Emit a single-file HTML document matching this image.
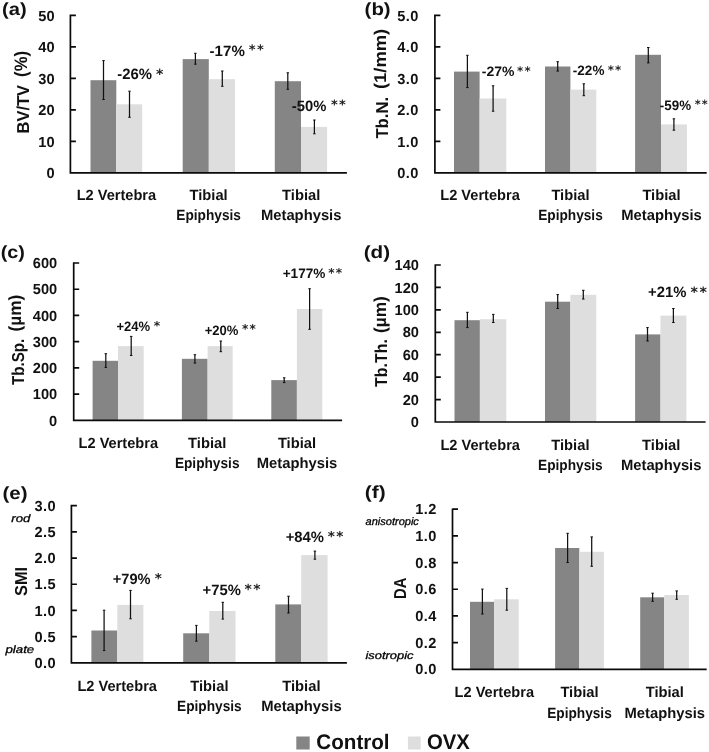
<!DOCTYPE html>
<html lang="en">
<head>
<meta charset="utf-8">
<title>Figure</title>
<style>
html,body{margin:0;padding:0;background:#fff;}
body{width:709px;height:752px;overflow:hidden;}
svg{display:block;font-family:'Liberation Sans', sans-serif;}
svg text{white-space:pre;}
</style>
</head>
<body>
<svg xml:space="preserve" width="709" height="752" viewBox="0 0 709 752" text-rendering="geometricPrecision">
<rect width="709" height="752" fill="#fff"/>
<rect x="90.50" y="80.20" width="25.80" height="92.70" fill="#858585"/>
<rect x="116.30" y="104.30" width="25.90" height="68.60" fill="#dedede"/>
<rect x="182.70" y="59.10" width="26.10" height="113.80" fill="#858585"/>
<rect x="208.80" y="79.20" width="26.20" height="93.70" fill="#dedede"/>
<rect x="274.80" y="81.20" width="26.20" height="91.70" fill="#858585"/>
<rect x="301.00" y="126.90" width="26.10" height="46.00" fill="#dedede"/>
<path d="M103.50 60.60V99.50" stroke="#111" stroke-width="1.25" fill="none"/><path d="M102.25 60.60h2.5M102.25 99.50h2.5" stroke="#111" stroke-width="1" fill="none"/>
<path d="M129.50 91.20V117.30" stroke="#111" stroke-width="1.25" fill="none"/><path d="M128.25 91.20h2.5M128.25 117.30h2.5" stroke="#111" stroke-width="1" fill="none"/>
<path d="M195.40 53.30V64.20" stroke="#111" stroke-width="1.25" fill="none"/><path d="M194.15 53.30h2.5M194.15 64.20h2.5" stroke="#111" stroke-width="1" fill="none"/>
<path d="M222.30 71.00V86.30" stroke="#111" stroke-width="1.25" fill="none"/><path d="M221.05 71.00h2.5M221.05 86.30h2.5" stroke="#111" stroke-width="1" fill="none"/>
<path d="M287.80 72.80V89.30" stroke="#111" stroke-width="1.25" fill="none"/><path d="M286.55 72.80h2.5M286.55 89.30h2.5" stroke="#111" stroke-width="1" fill="none"/>
<path d="M314.40 120.00V133.80" stroke="#111" stroke-width="1.25" fill="none"/><path d="M313.15 120.00h2.5M313.15 133.80h2.5" stroke="#111" stroke-width="1" fill="none"/>
<path d="M70.40 14.60V172.90H346.90M70.40 15.40h5.5M70.40 46.90h5.5M70.40 78.40h5.5M70.40 109.90h5.5M70.40 141.40h5.5" stroke="#0a0a0a" stroke-width="1.7" fill="none"/>
<text x="54.50" y="20.50" font-size="14.6" font-weight="bold" text-anchor="end" fill="#111">50</text>
<text x="54.50" y="52.00" font-size="14.6" font-weight="bold" text-anchor="end" fill="#111">40</text>
<text x="54.50" y="83.50" font-size="14.6" font-weight="bold" text-anchor="end" fill="#111">30</text>
<text x="54.50" y="115.00" font-size="14.6" font-weight="bold" text-anchor="end" fill="#111">20</text>
<text x="54.50" y="146.50" font-size="14.6" font-weight="bold" text-anchor="end" fill="#111">10</text>
<text x="54.50" y="178.00" font-size="14.6" font-weight="bold" text-anchor="end" fill="#111">0</text>
<rect x="454.00" y="71.60" width="25.60" height="101.30" fill="#858585"/>
<rect x="479.60" y="98.50" width="26.70" height="74.40" fill="#dedede"/>
<rect x="545.00" y="66.50" width="25.40" height="106.40" fill="#858585"/>
<rect x="570.40" y="89.60" width="25.90" height="83.30" fill="#dedede"/>
<rect x="635.10" y="54.80" width="25.90" height="118.10" fill="#858585"/>
<rect x="661.00" y="124.40" width="25.90" height="48.50" fill="#dedede"/>
<path d="M467.40 55.30V87.60" stroke="#111" stroke-width="1.25" fill="none"/><path d="M466.15 55.30h2.5M466.15 87.60h2.5" stroke="#111" stroke-width="1" fill="none"/>
<path d="M493.10 85.80V111.20" stroke="#111" stroke-width="1.25" fill="none"/><path d="M491.85 85.80h2.5M491.85 111.20h2.5" stroke="#111" stroke-width="1" fill="none"/>
<path d="M557.70 61.70V71.10" stroke="#111" stroke-width="1.25" fill="none"/><path d="M556.45 61.70h2.5M556.45 71.10h2.5" stroke="#111" stroke-width="1" fill="none"/>
<path d="M583.80 83.80V95.70" stroke="#111" stroke-width="1.25" fill="none"/><path d="M582.55 83.80h2.5M582.55 95.70h2.5" stroke="#111" stroke-width="1" fill="none"/>
<path d="M648.30 47.50V62.90" stroke="#111" stroke-width="1.25" fill="none"/><path d="M647.05 47.50h2.5M647.05 62.90h2.5" stroke="#111" stroke-width="1" fill="none"/>
<path d="M673.90 118.80V130.20" stroke="#111" stroke-width="1.25" fill="none"/><path d="M672.65 118.80h2.5M672.65 130.20h2.5" stroke="#111" stroke-width="1" fill="none"/>
<path d="M434.90 14.60V172.90H706.70M434.90 15.40h5.5M434.90 46.90h5.5M434.90 78.40h5.5M434.90 109.90h5.5M434.90 141.40h5.5" stroke="#0a0a0a" stroke-width="1.7" fill="none"/>
<text x="418.95" y="20.50" font-size="14.6" font-weight="bold" text-anchor="end" letter-spacing="0.45" fill="#111">5.0</text>
<text x="418.95" y="52.00" font-size="14.6" font-weight="bold" text-anchor="end" letter-spacing="0.45" fill="#111">4.0</text>
<text x="418.95" y="83.50" font-size="14.6" font-weight="bold" text-anchor="end" letter-spacing="0.45" fill="#111">3.0</text>
<text x="418.95" y="115.00" font-size="14.6" font-weight="bold" text-anchor="end" letter-spacing="0.45" fill="#111">2.0</text>
<text x="418.95" y="146.50" font-size="14.6" font-weight="bold" text-anchor="end" letter-spacing="0.45" fill="#111">1.0</text>
<text x="418.95" y="178.00" font-size="14.6" font-weight="bold" text-anchor="end" letter-spacing="0.45" fill="#111">0.0</text>
<rect x="92.60" y="360.80" width="25.40" height="59.60" fill="#858585"/>
<rect x="118.00" y="346.10" width="25.70" height="74.30" fill="#dedede"/>
<rect x="181.90" y="358.80" width="25.70" height="61.60" fill="#858585"/>
<rect x="207.60" y="346.10" width="25.10" height="74.30" fill="#dedede"/>
<rect x="271.30" y="380.10" width="25.60" height="40.30" fill="#858585"/>
<rect x="296.90" y="309.00" width="25.40" height="111.40" fill="#dedede"/>
<path d="M105.80 353.70V367.40" stroke="#111" stroke-width="1.25" fill="none"/><path d="M104.55 353.70h2.5M104.55 367.40h2.5" stroke="#111" stroke-width="1" fill="none"/>
<path d="M131.20 336.40V355.50" stroke="#111" stroke-width="1.25" fill="none"/><path d="M129.95 336.40h2.5M129.95 355.50h2.5" stroke="#111" stroke-width="1" fill="none"/>
<path d="M194.90 354.70V363.10" stroke="#111" stroke-width="1.25" fill="none"/><path d="M193.65 354.70h2.5M193.65 363.10h2.5" stroke="#111" stroke-width="1" fill="none"/>
<path d="M220.80 341.00V351.70" stroke="#111" stroke-width="1.25" fill="none"/><path d="M219.55 341.00h2.5M219.55 351.70h2.5" stroke="#111" stroke-width="1" fill="none"/>
<path d="M284.20 377.80V382.60" stroke="#111" stroke-width="1.25" fill="none"/><path d="M282.95 377.80h2.5M282.95 382.60h2.5" stroke="#111" stroke-width="1" fill="none"/>
<path d="M309.60 288.70V329.30" stroke="#111" stroke-width="1.25" fill="none"/><path d="M308.35 288.70h2.5M308.35 329.30h2.5" stroke="#111" stroke-width="1" fill="none"/>
<path d="M73.70 262.20V420.40H342.10M73.70 263.00h5.5M73.70 289.23h5.5M73.70 315.47h5.5M73.70 341.70h5.5M73.70 367.93h5.5M73.70 394.17h5.5" stroke="#0a0a0a" stroke-width="1.7" fill="none"/>
<text x="57.20" y="268.10" font-size="14.6" font-weight="bold" text-anchor="end" fill="#111">600</text>
<text x="57.20" y="294.33" font-size="14.6" font-weight="bold" text-anchor="end" fill="#111">500</text>
<text x="57.20" y="320.56" font-size="14.6" font-weight="bold" text-anchor="end" fill="#111">400</text>
<text x="57.20" y="346.80" font-size="14.6" font-weight="bold" text-anchor="end" fill="#111">300</text>
<text x="57.20" y="373.03" font-size="14.6" font-weight="bold" text-anchor="end" fill="#111">200</text>
<text x="57.20" y="399.26" font-size="14.6" font-weight="bold" text-anchor="end" fill="#111">100</text>
<text x="57.20" y="425.50" font-size="14.6" font-weight="bold" text-anchor="end" fill="#111">0</text>
<rect x="454.50" y="320.20" width="25.40" height="101.80" fill="#858585"/>
<rect x="479.90" y="319.20" width="26.40" height="102.80" fill="#dedede"/>
<rect x="545.00" y="301.70" width="25.40" height="120.30" fill="#858585"/>
<rect x="570.40" y="294.80" width="25.90" height="127.20" fill="#dedede"/>
<rect x="635.10" y="334.40" width="25.40" height="87.60" fill="#858585"/>
<rect x="660.50" y="315.60" width="25.90" height="106.40" fill="#dedede"/>
<path d="M467.40 312.30V327.60" stroke="#111" stroke-width="1.25" fill="none"/><path d="M466.15 312.30h2.5M466.15 327.60h2.5" stroke="#111" stroke-width="1" fill="none"/>
<path d="M493.30 314.40V322.50" stroke="#111" stroke-width="1.25" fill="none"/><path d="M492.05 314.40h2.5M492.05 322.50h2.5" stroke="#111" stroke-width="1" fill="none"/>
<path d="M557.70 294.60V308.50" stroke="#111" stroke-width="1.25" fill="none"/><path d="M556.45 294.60h2.5M556.45 308.50h2.5" stroke="#111" stroke-width="1" fill="none"/>
<path d="M583.30 290.30V299.10" stroke="#111" stroke-width="1.25" fill="none"/><path d="M582.05 290.30h2.5M582.05 299.10h2.5" stroke="#111" stroke-width="1" fill="none"/>
<path d="M647.50 327.60V341.00" stroke="#111" stroke-width="1.25" fill="none"/><path d="M646.25 327.60h2.5M646.25 341.00h2.5" stroke="#111" stroke-width="1" fill="none"/>
<path d="M673.40 308.50V322.50" stroke="#111" stroke-width="1.25" fill="none"/><path d="M672.15 308.50h2.5M672.15 322.50h2.5" stroke="#111" stroke-width="1" fill="none"/>
<path d="M435.30 264.20V422.00H705.60M435.30 265.00h5.5M435.30 287.43h5.5M435.30 309.86h5.5M435.30 332.29h5.5M435.30 354.71h5.5M435.30 377.14h5.5M435.30 399.57h5.5" stroke="#0a0a0a" stroke-width="1.7" fill="none"/>
<text x="418.90" y="270.10" font-size="14.6" font-weight="bold" text-anchor="end" fill="#111">140</text>
<text x="418.90" y="292.52" font-size="14.6" font-weight="bold" text-anchor="end" fill="#111">120</text>
<text x="418.90" y="314.95" font-size="14.6" font-weight="bold" text-anchor="end" fill="#111">100</text>
<text x="418.90" y="337.38" font-size="14.6" font-weight="bold" text-anchor="end" fill="#111">80</text>
<text x="418.90" y="359.81" font-size="14.6" font-weight="bold" text-anchor="end" fill="#111">60</text>
<text x="418.90" y="382.24" font-size="14.6" font-weight="bold" text-anchor="end" fill="#111">40</text>
<text x="418.90" y="404.67" font-size="14.6" font-weight="bold" text-anchor="end" fill="#111">20</text>
<text x="418.90" y="427.10" font-size="14.6" font-weight="bold" text-anchor="end" fill="#111">0</text>
<rect x="91.40" y="630.50" width="25.90" height="32.40" fill="#858585"/>
<rect x="117.30" y="604.90" width="26.10" height="58.00" fill="#dedede"/>
<rect x="183.20" y="633.30" width="26.10" height="29.60" fill="#858585"/>
<rect x="209.30" y="611.00" width="26.20" height="51.90" fill="#dedede"/>
<rect x="275.30" y="604.40" width="25.90" height="58.50" fill="#858585"/>
<rect x="301.20" y="555.10" width="26.40" height="107.80" fill="#dedede"/>
<path d="M104.10 610.20V650.60" stroke="#111" stroke-width="1.25" fill="none"/><path d="M102.85 610.20h2.5M102.85 650.60h2.5" stroke="#111" stroke-width="1" fill="none"/>
<path d="M130.50 590.40V618.80" stroke="#111" stroke-width="1.25" fill="none"/><path d="M129.25 590.40h2.5M129.25 618.80h2.5" stroke="#111" stroke-width="1" fill="none"/>
<path d="M196.40 625.40V641.20" stroke="#111" stroke-width="1.25" fill="none"/><path d="M195.15 625.40h2.5M195.15 641.20h2.5" stroke="#111" stroke-width="1" fill="none"/>
<path d="M222.80 602.30V619.10" stroke="#111" stroke-width="1.25" fill="none"/><path d="M221.55 602.30h2.5M221.55 619.10h2.5" stroke="#111" stroke-width="1" fill="none"/>
<path d="M288.50 596.20V613.00" stroke="#111" stroke-width="1.25" fill="none"/><path d="M287.25 596.20h2.5M287.25 613.00h2.5" stroke="#111" stroke-width="1" fill="none"/>
<path d="M314.90 551.10V559.20" stroke="#111" stroke-width="1.25" fill="none"/><path d="M313.65 551.10h2.5M313.65 559.20h2.5" stroke="#111" stroke-width="1" fill="none"/>
<path d="M71.40 504.80V662.90H346.90M71.40 505.60h5.5M71.40 531.82h5.5M71.40 558.03h5.5M71.40 584.25h5.5M71.40 610.47h5.5M71.40 636.68h5.5" stroke="#0a0a0a" stroke-width="1.7" fill="none"/>
<text x="56.05" y="510.70" font-size="14.6" font-weight="bold" text-anchor="end" letter-spacing="0.45" fill="#111">3.0</text>
<text x="56.05" y="536.91" font-size="14.6" font-weight="bold" text-anchor="end" letter-spacing="0.45" fill="#111">2.5</text>
<text x="56.05" y="563.13" font-size="14.6" font-weight="bold" text-anchor="end" letter-spacing="0.45" fill="#111">2.0</text>
<text x="56.05" y="589.35" font-size="14.6" font-weight="bold" text-anchor="end" letter-spacing="0.45" fill="#111">1.5</text>
<text x="56.05" y="615.56" font-size="14.6" font-weight="bold" text-anchor="end" letter-spacing="0.45" fill="#111">1.0</text>
<text x="56.05" y="641.78" font-size="14.6" font-weight="bold" text-anchor="end" letter-spacing="0.45" fill="#111">0.5</text>
<text x="56.05" y="668.00" font-size="14.6" font-weight="bold" text-anchor="end" letter-spacing="0.45" fill="#111">0.0</text>
<rect x="470.00" y="601.80" width="24.10" height="67.50" fill="#858585"/>
<rect x="494.10" y="599.30" width="24.60" height="70.00" fill="#dedede"/>
<rect x="555.10" y="548.00" width="24.20" height="121.30" fill="#858585"/>
<rect x="579.30" y="551.80" width="24.60" height="117.50" fill="#dedede"/>
<rect x="640.20" y="597.30" width="24.10" height="72.00" fill="#858585"/>
<rect x="664.30" y="595.00" width="24.60" height="74.30" fill="#dedede"/>
<path d="M482.40 589.10V614.00" stroke="#111" stroke-width="1.25" fill="none"/><path d="M481.15 589.10h2.5M481.15 614.00h2.5" stroke="#111" stroke-width="1" fill="none"/>
<path d="M506.80 588.40V610.20" stroke="#111" stroke-width="1.25" fill="none"/><path d="M505.55 588.40h2.5M505.55 610.20h2.5" stroke="#111" stroke-width="1" fill="none"/>
<path d="M567.60 533.30V562.50" stroke="#111" stroke-width="1.25" fill="none"/><path d="M566.35 533.30h2.5M566.35 562.50h2.5" stroke="#111" stroke-width="1" fill="none"/>
<path d="M591.70 536.90V566.30" stroke="#111" stroke-width="1.25" fill="none"/><path d="M590.45 536.90h2.5M590.45 566.30h2.5" stroke="#111" stroke-width="1" fill="none"/>
<path d="M652.60 593.20V601.30" stroke="#111" stroke-width="1.25" fill="none"/><path d="M651.35 593.20h2.5M651.35 601.30h2.5" stroke="#111" stroke-width="1" fill="none"/>
<path d="M676.70 590.90V599.30" stroke="#111" stroke-width="1.25" fill="none"/><path d="M675.45 590.90h2.5M675.45 599.30h2.5" stroke="#111" stroke-width="1" fill="none"/>
<path d="M452.50 508.40V669.30H706.70M452.50 509.20h5.5M452.50 535.88h5.5M452.50 562.57h5.5M452.50 589.25h5.5M452.50 615.93h5.5M452.50 642.62h5.5" stroke="#0a0a0a" stroke-width="1.7" fill="none"/>
<text x="436.85" y="514.30" font-size="14.6" font-weight="bold" text-anchor="end" letter-spacing="0.45" fill="#111">1.2</text>
<text x="436.85" y="540.98" font-size="14.6" font-weight="bold" text-anchor="end" letter-spacing="0.45" fill="#111">1.0</text>
<text x="436.85" y="567.66" font-size="14.6" font-weight="bold" text-anchor="end" letter-spacing="0.45" fill="#111">0.8</text>
<text x="436.85" y="594.35" font-size="14.6" font-weight="bold" text-anchor="end" letter-spacing="0.45" fill="#111">0.6</text>
<text x="436.85" y="621.03" font-size="14.6" font-weight="bold" text-anchor="end" letter-spacing="0.45" fill="#111">0.4</text>
<text x="436.85" y="647.71" font-size="14.6" font-weight="bold" text-anchor="end" letter-spacing="0.45" fill="#111">0.2</text>
<text x="436.85" y="674.40" font-size="14.6" font-weight="bold" text-anchor="end" letter-spacing="0.45" fill="#111">0.0</text>
<text x="76.65" y="200.10" font-size="14.8" font-weight="bold" font-style="normal" fill="#111" textLength="79.50" lengthAdjust="spacingAndGlyphs">L2 Vertebra</text>
<text x="189.50" y="200.10" font-size="14.8" font-weight="bold" font-style="normal" fill="#111" textLength="38.20" lengthAdjust="spacingAndGlyphs">Tibial</text>
<text x="176.30" y="219.90" font-size="14.8" font-weight="bold" font-style="normal" fill="#111" textLength="64.60" lengthAdjust="spacingAndGlyphs">Epiphysis</text>
<text x="282.10" y="200.10" font-size="14.8" font-weight="bold" font-style="normal" fill="#111" textLength="38.20" lengthAdjust="spacingAndGlyphs">Tibial</text>
<text x="260.95" y="219.90" font-size="14.8" font-weight="bold" font-style="normal" fill="#111" textLength="80.50" lengthAdjust="spacingAndGlyphs">Metaphysis</text>
<text x="440.25" y="200.10" font-size="14.8" font-weight="bold" font-style="normal" fill="#111" textLength="79.50" lengthAdjust="spacingAndGlyphs">L2 Vertebra</text>
<text x="551.40" y="200.10" font-size="14.8" font-weight="bold" font-style="normal" fill="#111" textLength="38.20" lengthAdjust="spacingAndGlyphs">Tibial</text>
<text x="538.20" y="219.90" font-size="14.8" font-weight="bold" font-style="normal" fill="#111" textLength="64.60" lengthAdjust="spacingAndGlyphs">Epiphysis</text>
<text x="642.40" y="200.10" font-size="14.8" font-weight="bold" font-style="normal" fill="#111" textLength="38.20" lengthAdjust="spacingAndGlyphs">Tibial</text>
<text x="621.25" y="219.90" font-size="14.8" font-weight="bold" font-style="normal" fill="#111" textLength="80.50" lengthAdjust="spacingAndGlyphs">Metaphysis</text>
<text x="78.55" y="447.80" font-size="14.8" font-weight="bold" font-style="normal" fill="#111" textLength="79.50" lengthAdjust="spacingAndGlyphs">L2 Vertebra</text>
<text x="188.10" y="447.80" font-size="14.8" font-weight="bold" font-style="normal" fill="#111" textLength="38.20" lengthAdjust="spacingAndGlyphs">Tibial</text>
<text x="174.90" y="467.60" font-size="14.8" font-weight="bold" font-style="normal" fill="#111" textLength="64.60" lengthAdjust="spacingAndGlyphs">Epiphysis</text>
<text x="277.90" y="447.80" font-size="14.8" font-weight="bold" font-style="normal" fill="#111" textLength="38.20" lengthAdjust="spacingAndGlyphs">Tibial</text>
<text x="256.75" y="467.60" font-size="14.8" font-weight="bold" font-style="normal" fill="#111" textLength="80.50" lengthAdjust="spacingAndGlyphs">Metaphysis</text>
<text x="440.45" y="449.90" font-size="14.8" font-weight="bold" font-style="normal" fill="#111" textLength="79.50" lengthAdjust="spacingAndGlyphs">L2 Vertebra</text>
<text x="551.30" y="449.90" font-size="14.8" font-weight="bold" font-style="normal" fill="#111" textLength="38.20" lengthAdjust="spacingAndGlyphs">Tibial</text>
<text x="538.10" y="470.00" font-size="14.8" font-weight="bold" font-style="normal" fill="#111" textLength="64.60" lengthAdjust="spacingAndGlyphs">Epiphysis</text>
<text x="642.10" y="449.90" font-size="14.8" font-weight="bold" font-style="normal" fill="#111" textLength="38.20" lengthAdjust="spacingAndGlyphs">Tibial</text>
<text x="620.95" y="470.00" font-size="14.8" font-weight="bold" font-style="normal" fill="#111" textLength="80.50" lengthAdjust="spacingAndGlyphs">Metaphysis</text>
<text x="77.45" y="691.10" font-size="14.8" font-weight="bold" font-style="normal" fill="#111" textLength="79.50" lengthAdjust="spacingAndGlyphs">L2 Vertebra</text>
<text x="190.30" y="691.10" font-size="14.8" font-weight="bold" font-style="normal" fill="#111" textLength="38.20" lengthAdjust="spacingAndGlyphs">Tibial</text>
<text x="177.10" y="711.10" font-size="14.8" font-weight="bold" font-style="normal" fill="#111" textLength="64.60" lengthAdjust="spacingAndGlyphs">Epiphysis</text>
<text x="282.30" y="691.10" font-size="14.8" font-weight="bold" font-style="normal" fill="#111" textLength="38.20" lengthAdjust="spacingAndGlyphs">Tibial</text>
<text x="261.15" y="711.10" font-size="14.8" font-weight="bold" font-style="normal" fill="#111" textLength="80.50" lengthAdjust="spacingAndGlyphs">Metaphysis</text>
<text x="454.55" y="697.40" font-size="14.8" font-weight="bold" font-style="normal" fill="#111" textLength="79.50" lengthAdjust="spacingAndGlyphs">L2 Vertebra</text>
<text x="560.40" y="697.40" font-size="14.8" font-weight="bold" font-style="normal" fill="#111" textLength="38.20" lengthAdjust="spacingAndGlyphs">Tibial</text>
<text x="547.20" y="717.50" font-size="14.8" font-weight="bold" font-style="normal" fill="#111" textLength="64.60" lengthAdjust="spacingAndGlyphs">Epiphysis</text>
<text x="645.70" y="697.40" font-size="14.8" font-weight="bold" font-style="normal" fill="#111" textLength="38.20" lengthAdjust="spacingAndGlyphs">Tibial</text>
<text x="624.55" y="717.50" font-size="14.8" font-weight="bold" font-style="normal" fill="#111" textLength="80.50" lengthAdjust="spacingAndGlyphs">Metaphysis</text>
<text x="2.00" y="15.00" font-size="17.5" font-weight="bold" font-style="normal" fill="#111" textLength="24.60" lengthAdjust="spacingAndGlyphs">(a)</text>
<text x="364.60" y="14.60" font-size="17.5" font-weight="bold" font-style="normal" fill="#111" textLength="26.10" lengthAdjust="spacingAndGlyphs">(b)</text>
<text x="0.70" y="257.80" font-size="17.5" font-weight="bold" font-style="normal" fill="#111" textLength="24.20" lengthAdjust="spacingAndGlyphs">(c)</text>
<text x="363.70" y="257.80" font-size="17.5" font-weight="bold" font-style="normal" fill="#111" textLength="26.40" lengthAdjust="spacingAndGlyphs">(d)</text>
<text x="2.40" y="499.00" font-size="17.5" font-weight="bold" font-style="normal" fill="#111" textLength="25.10" lengthAdjust="spacingAndGlyphs">(e)</text>
<text x="364.80" y="498.30" font-size="17.5" font-weight="bold" font-style="normal" fill="#111" textLength="20.80" lengthAdjust="spacingAndGlyphs">(f)</text>
<text transform="translate(29.10,133.41) rotate(-90)" x="0" y="0" font-size="17.3" font-weight="bold" fill="#111" textLength="48.50" lengthAdjust="spacingAndGlyphs">BV/TV</text>
<text transform="translate(26.80,76.90) rotate(-90)" x="0" y="0" font-size="18.0" font-weight="bold" fill="#111" textLength="25.90" lengthAdjust="spacingAndGlyphs">(%)</text>
<text transform="translate(388.20,138.59) rotate(-90)" x="0" y="0" font-size="17.3" font-weight="bold" fill="#111" textLength="41.70" lengthAdjust="spacingAndGlyphs">Tb.N.</text>
<text transform="translate(386.40,89.05) rotate(-90)" x="0" y="0" font-size="17.0" font-weight="bold" fill="#111" textLength="60.30" lengthAdjust="spacingAndGlyphs">(1/mm)</text>
<text transform="translate(24.10,384.99) rotate(-90)" x="0" y="0" font-size="17.3" font-weight="bold" fill="#111" textLength="46.30" lengthAdjust="spacingAndGlyphs">Tb.Sp.</text>
<text transform="translate(21.30,331.48) rotate(-90)" x="0" y="0" font-size="17.6" font-weight="bold" fill="#111" textLength="36.86" lengthAdjust="spacingAndGlyphs">(µm)</text>
<text transform="translate(387.00,386.89) rotate(-90)" x="0" y="0" font-size="17.3" font-weight="bold" fill="#111" textLength="47.80" lengthAdjust="spacingAndGlyphs">Tb.Th.</text>
<text transform="translate(385.50,332.97) rotate(-90)" x="0" y="0" font-size="17.3" font-weight="bold" fill="#111" textLength="36.83" lengthAdjust="spacingAndGlyphs">(µm)</text>
<text transform="translate(26.90,596.00) rotate(-90)" x="0" y="0" font-size="17.3" font-weight="bold" fill="#111" textLength="29.00" lengthAdjust="spacingAndGlyphs">SMI</text>
<text transform="translate(405.90,599.00) rotate(-90)" x="0" y="0" font-size="17.3" font-weight="bold" fill="#111" textLength="21.30" lengthAdjust="spacingAndGlyphs">DA</text>
<text x="117.30" y="78.80" font-size="15.0" font-weight="bold" font-style="normal" fill="#111" textLength="34.75" lengthAdjust="spacingAndGlyphs">-26%</text>
<text x="156.02" y="78.75" font-family="'DejaVu Sans', sans-serif" font-size="14.08" font-weight="bold" letter-spacing="0.00" fill="#222">*</text>
<text x="209.60" y="56.40" font-size="15.0" font-weight="bold" font-style="normal" fill="#111" textLength="35.25" lengthAdjust="spacingAndGlyphs">-17%</text>
<text x="248.84" y="54.47" font-family="'DejaVu Sans', sans-serif" font-size="13.03" font-weight="bold" letter-spacing="1.29" fill="#222">**</text>
<text x="291.80" y="111.40" font-size="15.0" font-weight="bold" font-style="normal" fill="#111" textLength="34.55" lengthAdjust="spacingAndGlyphs">-50%</text>
<text x="330.94" y="109.40" font-family="'DejaVu Sans', sans-serif" font-size="12.94" font-weight="bold" letter-spacing="1.28" fill="#222">**</text>
<text x="481.85" y="76.40" font-size="13.7" font-weight="bold" font-style="normal" fill="#111" textLength="32.66" lengthAdjust="spacingAndGlyphs">-27%</text>
<text x="517.06" y="74.69" font-family="'DejaVu Sans', sans-serif" font-size="11.85" font-weight="bold" letter-spacing="1.18" fill="#222">**</text>
<text x="572.85" y="75.40" font-size="13.7" font-weight="bold" font-style="normal" fill="#111" textLength="31.56" lengthAdjust="spacingAndGlyphs">-22%</text>
<text x="607.66" y="73.59" font-family="'DejaVu Sans', sans-serif" font-size="11.85" font-weight="bold" letter-spacing="1.18" fill="#222">**</text>
<text x="659.85" y="109.50" font-size="13.7" font-weight="bold" font-style="normal" fill="#111" textLength="31.26" lengthAdjust="spacingAndGlyphs">-59%</text>
<text x="694.67" y="107.56" font-family="'DejaVu Sans', sans-serif" font-size="11.40" font-weight="bold" letter-spacing="1.13" fill="#222">**</text>
<text x="116.45" y="331.20" font-size="13.7" font-weight="bold" font-style="normal" fill="#111" textLength="33.76" lengthAdjust="spacingAndGlyphs">+24%</text>
<text x="153.76" y="330.06" font-family="'DejaVu Sans', sans-serif" font-size="12.22" font-weight="bold" letter-spacing="0.00" fill="#222">*</text>
<text x="204.65" y="334.80" font-size="13.7" font-weight="bold" font-style="normal" fill="#111" textLength="33.76" lengthAdjust="spacingAndGlyphs">+20%</text>
<text x="241.96" y="333.33" font-family="'DejaVu Sans', sans-serif" font-size="12.03" font-weight="bold" letter-spacing="1.19" fill="#222">**</text>
<text x="282.65" y="278.10" font-size="13.7" font-weight="bold" font-style="normal" fill="#111" textLength="42.76" lengthAdjust="spacingAndGlyphs">+177%</text>
<text x="328.26" y="276.70" font-family="'DejaVu Sans', sans-serif" font-size="12.12" font-weight="bold" letter-spacing="1.20" fill="#222">**</text>
<text x="648.00" y="297.40" font-size="15.0" font-weight="bold" font-style="normal" fill="#111" textLength="38.35" lengthAdjust="spacingAndGlyphs">+21%</text>
<text x="690.62" y="296.84" font-family="'DejaVu Sans', sans-serif" font-size="14.20" font-weight="bold" letter-spacing="1.41" fill="#222">**</text>
<text x="112.80" y="584.40" font-size="15.0" font-weight="bold" font-style="normal" fill="#111" textLength="37.75" lengthAdjust="spacingAndGlyphs">+79%</text>
<text x="154.83" y="583.09" font-family="'DejaVu Sans', sans-serif" font-size="13.46" font-weight="bold" letter-spacing="0.00" fill="#222">*</text>
<text x="202.60" y="595.00" font-size="15.0" font-weight="bold" font-style="normal" fill="#111" textLength="38.25" lengthAdjust="spacingAndGlyphs">+75%</text>
<text x="244.62" y="593.54" font-family="'DejaVu Sans', sans-serif" font-size="13.93" font-weight="bold" letter-spacing="1.38" fill="#222">**</text>
<text x="285.70" y="542.00" font-size="15.0" font-weight="bold" font-style="normal" fill="#111" textLength="38.35" lengthAdjust="spacingAndGlyphs">+84%</text>
<text x="327.83" y="540.97" font-family="'DejaVu Sans', sans-serif" font-size="13.57" font-weight="bold" letter-spacing="1.35" fill="#222">**</text>
<text x="11.30" y="522.30" font-size="10.8" font-weight="normal" font-style="italic" fill="#000" stroke="#000" stroke-width="0.3" textLength="19.10" lengthAdjust="spacingAndGlyphs">rod</text>
<text x="5.50" y="653.40" font-size="10.8" font-weight="normal" font-style="italic" fill="#000" stroke="#000" stroke-width="0.3" textLength="28.70" lengthAdjust="spacingAndGlyphs">plate</text>
<text x="365.50" y="524.50" font-size="10.8" font-weight="normal" font-style="italic" fill="#000" stroke="#000" stroke-width="0.3" textLength="53.40" lengthAdjust="spacingAndGlyphs">anisotropic</text>
<text x="365.50" y="659.30" font-size="10.8" font-weight="normal" font-style="italic" fill="#000" stroke="#000" stroke-width="0.3" textLength="48.00" lengthAdjust="spacingAndGlyphs">isotropic</text>
<rect x="296.3" y="736.5" width="13.4" height="13" fill="#858585"/>
<text x="316.30" y="749.20" font-size="21" font-weight="bold" font-style="normal" fill="#111" textLength="73.30" lengthAdjust="spacingAndGlyphs">Control</text>
<rect x="407.9" y="736.5" width="12.8" height="13" fill="#dedede"/>
<text x="427.00" y="749.20" font-size="21" font-weight="bold" font-style="normal" fill="#111" textLength="42.90" lengthAdjust="spacingAndGlyphs">OVX</text>
</svg>
</body>
</html>
